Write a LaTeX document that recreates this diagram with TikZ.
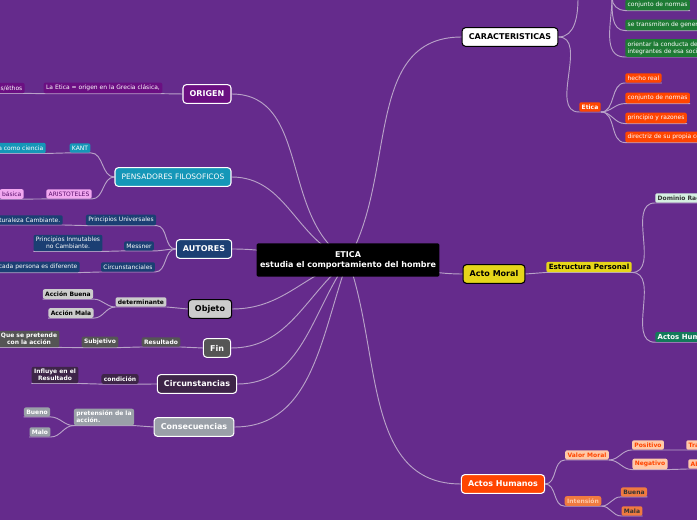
\documentclass[tikz,border=0pt]{standalone}
\usepackage{fontspec}
\setmainfont{DejaVu Sans}
\usetikzlibrary{backgrounds}
\definecolor{bg}{HTML}{652B8C}
\definecolor{ln}{HTML}{B8A2C8}
\definecolor{cOr}{HTML}{6B0F82}
\definecolor{cPe}{HTML}{1597B8}
\definecolor{cPk}{HTML}{F2A8F0}
\definecolor{cAu}{HTML}{1B3F73}
\definecolor{cOb}{HTML}{CCCCCC}
\definecolor{cFi}{HTML}{555555}
\definecolor{cCi}{HTML}{3E2548}
\definecolor{cCo}{HTML}{9AA0A8}
\definecolor{cAm}{HTML}{E6D61A}
\definecolor{cAh}{HTML}{FF4500}
\definecolor{cGr}{HTML}{1E7B34}
\definecolor{cDr}{HTML}{D5EFE0}
\definecolor{cAH}{HTML}{137A5A}
\definecolor{cPc}{HTML}{FFC9A8}
\definecolor{cOo}{HTML}{F07A40}
\tikzset{
 sub/.style={rounded corners=1.5pt, inner sep=1.8pt, text=white, font=\fontsize{4.5}{5.2}\selectfont, align=center},
 mainbox/.style={rounded corners=2.5pt, draw=white, line width=0.8pt, inner xsep=5pt, minimum height=14pt, text=white, font=\fontsize{6}{7}\selectfont\bfseries},
 link/.style={draw=ln, line width=0.7pt},
}
\begin{document}
\begin{tikzpicture}[x=0.75pt,y=-0.75pt]
\useasboundingbox (0,0) rectangle (697,520);
\clip (0,0) rectangle (697,520);
% center
\node[fill=black, text=white, minimum width=137pt, minimum height=25pt, inner sep=1pt, rounded corners=1pt, font=\fontsize{6}{7.5}\selectfont\bfseries, align=center] (c) at (348,260) {ETICA\\estudia el comportamiento del hombre};
% main left
\node[mainbox, fill=cOr] (origen) at (207,94) {ORIGEN};
\node[mainbox, fill=cPe, font=\fontsize{5.6}{7}\selectfont] (pens) at (173,177) {PENSADORES FILOSOFICOS};
\node[mainbox, fill=cAu] (aut) at (204,249) {AUTORES};
\node[mainbox, fill=cOb, draw=black, text=black] (obj) at (210,309) {Objeto};
\node[mainbox, fill=cFi] (fin) at (217,348) {Fin};
\node[mainbox, fill=cCi] (cir) at (197,384) {Circunstancias};
\node[mainbox, fill=cCo] (con) at (194,427) {Consecuencias};
% main right
\node[mainbox, fill=white, draw=black, text=black] (car) at (510,37) {CARACTERISTICAS};
\node[mainbox, fill=cAm, draw=black, text=black] (am) at (494,274) {Acto Moral};
\node[mainbox, fill=cAh] (ah) at (503,484) {Actos Humanos};
% origen
\node[sub, fill=cOr] (o1) at (103,88) {La Etica = origen en la Grecia clásica,};
\node[sub, fill=cOr, anchor=east] (o2) at (25,88) {ethos/éthos};
% pensadores
\node[sub, fill=cPe] (kant) at (80,148) {KANT};
\node[sub, fill=cPe, anchor=east] (k1) at (46,148) {la Ética como ciencia};
\node[sub, fill=cPk, text=cOr!80!black] (ari) at (69,194) {ARISTOTELES};
\node[sub, fill=cPk, text=cOr!80!black, anchor=east] (a1) at (24,194) {básica};
% autores
\node[sub, fill=cAu] (pu) at (121,220) {Principios Universales};
\node[sub, fill=cAu, anchor=east] (pu1) at (63,220) {Naturaleza Cambiante.};
\node[sub, fill=cAu] (mes) at (139,246) {Messner};
\node[sub, fill=cAu] (mes1) at (68,243) {Principios Inmutables\\no Cambiante.};
\node[sub, fill=cAu] (circ) at (128,267) {Circunstanciales};
\node[sub, fill=cAu, anchor=east] (circ1) at (80,267) {cada persona es diferente};
% objeto
\node[sub, fill=cOb, text=black, font=\fontsize{4.5}{5.2}\selectfont\bfseries] (det) at (141,302) {determinante};
\node[sub, fill=cOb, text=black, font=\fontsize{4.5}{5.2}\selectfont\bfseries] (ab) at (68,294) {Acción Buena};
\node[sub, fill=cOb, text=black, font=\fontsize{4.5}{5.2}\selectfont\bfseries] (am2) at (71,313) {Acción Mala};
% fin
\node[sub, fill=cFi, font=\fontsize{4.5}{5.2}\selectfont\bfseries] (res) at (161,342) {Resultado};
\node[sub, fill=cFi, font=\fontsize{4.5}{5.2}\selectfont\bfseries] (subj) at (100,342) {Subjetivo};
\node[sub, fill=cFi, font=\fontsize{4.5}{5.2}\selectfont\bfseries] (que) at (29,339) {Que se pretende\\con la acción};
% circunstancias
\node[sub, fill=cCi, font=\fontsize{4.5}{5.2}\selectfont\bfseries] (cond) at (120,379) {condición};
\node[sub, fill=cCi, font=\fontsize{4.5}{5.2}\selectfont\bfseries] (inf) at (55,375) {Influye en el\\Resultado};
% consecuencias
\node[sub, fill=cCo, align=left, font=\fontsize{4.5}{5.2}\selectfont\bfseries] (pre) at (104,417) {pretensión de la\\acción.};
\node[sub, fill=cCo, font=\fontsize{4.5}{5.2}\selectfont\bfseries] (bue) at (37,412) {Bueno};
\node[sub, fill=cCo, font=\fontsize{4.5}{5.2}\selectfont\bfseries] (mal) at (40,432) {Malo};
% caracteristicas
\node[sub, fill=cGr, anchor=west] (g1) at (625,5) {conjunto de normas};
\node[sub, fill=cGr, anchor=west] (g2) at (625,25) {se transmiten de generaciones};
\node[sub, fill=cGr, anchor=west, align=left] (g3) at (625,48) {orientar la conducta de los\\integrantes de esa sociedad};
\node[sub, fill=cAh, font=\fontsize{4.5}{5.2}\selectfont\bfseries] (eti) at (590,107) {Etica};
\node[sub, fill=cAh, anchor=west] (e1) at (625,78) {hecho real};
\node[sub, fill=cAh, anchor=west] (e2) at (625,98) {conjunto de normas};
\node[sub, fill=cAh, anchor=west] (e3) at (625,118) {principio y razones};
\node[sub, fill=cAh, anchor=west] (e4) at (625,137) {directriz de su propia conducta};
% acto moral
\node[sub, fill=cAm, text=black, font=\fontsize{5.4}{6}\selectfont\bfseries] (ep) at (589,267) {Estructura Personal};
\node[sub, fill=cDr, text=black!80, anchor=west, font=\fontsize{4.5}{5.2}\selectfont\bfseries] (dr) at (655,198) {Dominio Racional};
\node[sub, fill=cAH, anchor=west, font=\fontsize{5.2}{6}\selectfont\bfseries] (ahu) at (655,337) {Actos Humanos};
% actos humanos
\node[sub, fill=cPc, text=cAh, font=\fontsize{4.5}{5.2}\selectfont\bfseries] (vm) at (587,455) {Valor Moral};
\node[sub, fill=cOo, text=cPc, font=\fontsize{4.5}{5.2}\selectfont\bfseries] (int) at (583,501) {Intensión};
\node[sub, fill=cPc, text=cAh, font=\fontsize{4.5}{5.2}\selectfont\bfseries] (pos) at (648,445) {Positivo};
\node[sub, fill=cPc, text=cAh, font=\fontsize{4.5}{5.2}\selectfont\bfseries] (neg) at (650,464) {Negativo};
\node[sub, fill=cOo, text=black!80, font=\fontsize{4.5}{5.2}\selectfont\bfseries] (bna) at (634,492) {Buena};
\node[sub, fill=cOo, text=black!80, font=\fontsize{4.5}{5.2}\selectfont\bfseries] (mla) at (632,511) {Mala};
\node[sub, fill=cPc, text=cAh, anchor=west, font=\fontsize{4.5}{5.2}\selectfont\bfseries] (tr) at (686,445) {Trascendente};
\node[sub, fill=cPc, text=cAh, anchor=west, font=\fontsize{4.5}{5.2}\selectfont\bfseries] (ar) at (688,464) {Aberrante};
\begin{pgfonlayer}{background}
\fill[bg] (0,0) rectangle (697,520);
\path[link] (c.center) to[out=150,in=0] (origen.east);
\path[link] (c.center) to[out=160,in=0] (pens.east);
\path[link] (c.center) to[out=180,in=0] (aut.east);
\path[link] (c.center) to[out=200,in=0] (obj.east);
\path[link] (c.center) to[out=220,in=0] (fin.east);
\path[link] (c.center) to[out=235,in=0] (cir.east);
\path[link] (c.center) to[out=250,in=0] (con.east);
\path[link] (c.center) to[out=60,in=180] (car.west);
\path[link] (c.center) to[out=0,in=180] (am.west);
\path[link] (c.center) to[out=290,in=180] (ah.west);
% left branches
\path[link] (origen.west) -- (o1.south east) -- (o1.south west) -- (o2.south east) -- (o2.south west);
\path[link] (pens.west) to[out=180,in=0] (kant.south east) -- (kant.south west) -- (k1.south east) -- (k1.south west);
\path[link] (pens.west) to[out=180,in=0] (ari.south east) -- (ari.south west) -- (a1.south east) -- (a1.south west);
\path[link] (aut.west) to[out=180,in=0] (pu.south east) -- (pu.south west) -- (pu1.south east) -- (pu1.south west);
\path[link] (aut.west) to[out=180,in=0] (mes.south east) -- (mes.south west) -- (mes1.south east) -- (mes1.south west);
\path[link] (aut.west) to[out=180,in=0] (circ.south east) -- (circ.south west) -- (circ1.south east) -- (circ1.south west);
\path[link] (obj.west) -- (det.south east) -- (det.south west) to[out=180,in=0] (ab.south east) -- (ab.south west);
\path[link] (det.south west) to[out=180,in=0] (am2.south east) -- (am2.south west);
\path[link] (fin.west) -- (res.south east) -- (res.south west) -- (subj.south east) -- (subj.south west) -- (que.south east) -- (que.south west);
\path[link] (cir.west) -- (cond.south east) -- (cond.south west) -- (inf.south east) -- (inf.south west);
\path[link] (con.west) -- (pre.south east) -- (pre.south west) to[out=180,in=0] (bue.south east) -- (bue.south west);
\path[link] (pre.south west) to[out=180,in=0] (mal.south east) -- (mal.south west);
% right branches
\coordinate (top) at (578,-2);
\coordinate (gtop) at (612,-2);
\path[link] (car.east) to[out=0,in=270] (top);
\path[link] (car.east) to[out=0,in=180] (eti.south west) -- (eti.south east);
\foreach \g in {g1,g2,g3} \path[link] (gtop) to[out=270,in=180] (\g.south west) -- (\g.south east);
\foreach \e in {e1,e2,e3,e4} \path[link] (eti.south east) to[out=0,in=180] (\e.south west) -- (\e.south east);
\path[link] (am.east) -- (ep.south west) -- (ep.south east);
\path[link] (ep.south east) to[out=0,in=180] (dr.south west) -- (dr.south east);
\path[link] (ep.south east) to[out=0,in=180] (ahu.south west) -- (ahu.south east);
\path[link] (ah.east) to[out=0,in=180] (vm.south west) -- (vm.south east);
\path[link] (ah.east) to[out=0,in=180] (int.south west) -- (int.south east);
\path[link] (vm.south east) to[out=0,in=180] (pos.south west) -- (pos.south east) -- (tr.south west) -- (tr.south east);
\path[link] (vm.south east) to[out=0,in=180] (neg.south west) -- (neg.south east) -- (ar.south west) -- (ar.south east);
\path[link] (int.south east) to[out=0,in=180] (bna.south west) -- (bna.south east);
\path[link] (int.south east) to[out=0,in=180] (mla.south west) -- (mla.south east);
\end{pgfonlayer}
\end{tikzpicture}
\end{document}
